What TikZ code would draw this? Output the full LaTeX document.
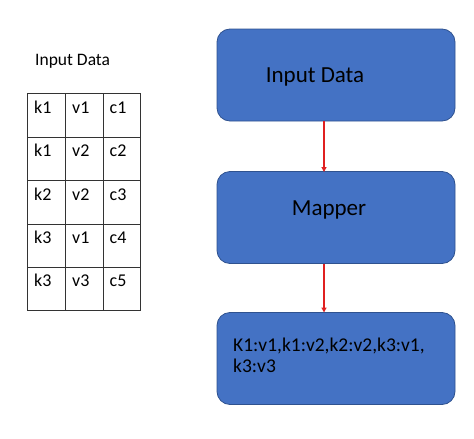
\documentclass[tikz,border=0pt]{standalone}
\usepackage{fontspec}
\setmainfont{Carlito}
\usetikzlibrary{arrows.meta}
\definecolor{boxblue}{HTML}{4472C4}
\definecolor{boxedge}{HTML}{2F528F}
\definecolor{arrred}{HTML}{E02020}
\begin{document}
\begin{tikzpicture}[x=1pt,y=-1pt,
  flowbox/.style={draw=boxedge,line width=0.8pt,fill=boxblue,rounded corners=13pt,
    minimum width=238pt,minimum height=92pt,inner sep=0pt},
  flowtext/.style={font=\fontsize{23}{25}\selectfont,text=black},
  celltext/.style={font=\fontsize{18}{21}\selectfont,anchor=base west,inner sep=0pt},
  flowarrow/.style={draw=arrred,line width=1.2pt,-{Triangle[length=5pt,width=5pt]}}]
\useasboundingbox (0,0) rectangle (474,439);
% table
\node[font=\fontsize{17.5}{20}\selectfont,anchor=base west,inner sep=0pt] (title) at (35,65) {Input Data};
\draw[line width=0.8pt,draw=black!80] (27,93) rectangle (140,310);
\foreach \yy in {137,180,224,267} \draw[line width=0.8pt,draw=black!80] (27,\yy) -- (140,\yy);
\foreach \xx in {65,103} \draw[line width=0.8pt,draw=black!80] (\xx,93) -- (\xx,310);
\foreach \r/\a/\b/\c [count=\i from 0] in {0/k1/v1/c1,1/k1/v2/c2,2/k2/v2/c3,3/k3/v1/c4,4/k3/v3/c5}{
  \pgfmathsetmacro{\yy}{113.3+43.4*\i}
  \node[celltext] (ka\i) at (34,\yy) {\a};
  \node[celltext] (va\i) at (72,\yy) {\b};
  \node[celltext] (ca\i) at (109.5,\yy) {\c};
}
% flow boxes
\node[flowbox] (b1) at (336,75) {};
\node[flowtext,anchor=center] (t1) at (315,77) {Input Data};
\node[flowbox] (b2) at (336,217.5) {};
\node[flowtext,anchor=center] (t2) at (329,210) {Mapper};
\node[flowbox] (b3) at (336,358.5) {};
\node[font=\fontsize{19.5}{20.5}\selectfont,text=black,anchor=base west,align=left,inner sep=0pt] (t3) at (233,372) {K1:v1,k1:v2,k2:v2,k3:v1,\\k3:v3};
\coordinate (a1s) at (324,121);
\coordinate (a1e) at (324,172);
\coordinate (a2s) at (324,263.5);
\coordinate (a2e) at (324,312.5);
\draw[flowarrow] (a1s) -- (a1e);
\draw[flowarrow] (a2s) -- (a2e);
\end{tikzpicture}
\end{document}
